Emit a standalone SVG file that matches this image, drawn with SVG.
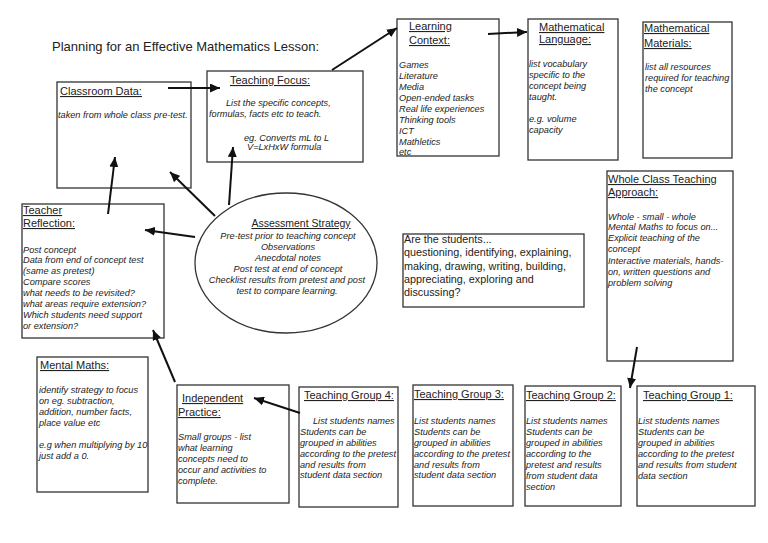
<svg xmlns="http://www.w3.org/2000/svg" width="768" height="543" viewBox="0 0 768 543">
<defs>
<style>
text{font-family:"Liberation Sans",Arial,sans-serif;fill:#222}
.box{fill:#fff;stroke:#333;stroke-width:1.3}
.h{font-size:11px;text-decoration:underline}
.b{font-size:9.2px;font-style:italic}
.q{font-size:10.8px}
.title{font-size:13px}
.c line{stroke:#111;stroke-width:2;marker-end:url(#ah)}
</style>
<marker id="ah" markerUnits="userSpaceOnUse" markerWidth="11" markerHeight="9" refX="10" refY="4.5" orient="auto">
<path d="M0,0 L10,4.5 L0,9 z" fill="#111"/>
</marker>
</defs>
<rect width="768" height="543" fill="#fff"/>
<text class="title" x="52" y="51">Planning for an Effective Mathematics Lesson:</text>

<g id="classroom-data">
<rect class="box" x="57" y="82" width="134" height="106"/>
<text class="h" x="60" y="95">Classroom Data:</text>
<text class="b" x="58" y="118">taken from whole class pre-test.</text>
</g>

<g id="teaching-focus">
<rect class="box" x="207" y="71" width="156" height="91"/>
<text class="h" x="230" y="84">Teaching Focus:</text>
<text class="b" x="226" y="106">List the specific concepts,</text>
<text class="b" x="209" y="117">formulas, facts etc to teach.</text>
<text class="b" x="244" y="141">eg. Converts mL to L</text>
<text class="b" x="247" y="150">V=LxHxW formula</text>
</g>

<g id="learning-context">
<rect class="box" x="397" y="19" width="102" height="137"/>
<text class="h" x="409" y="30">Learning</text>
<text class="h" x="409" y="44">Context:</text>
<text class="b" x="399" y="68">Games</text>
<text class="b" x="399" y="79">Literature</text>
<text class="b" x="399" y="90">Media</text>
<text class="b" x="399" y="101">Open-ended tasks</text>
<text class="b" x="399" y="112">Real life experiences</text>
<text class="b" x="399" y="123">Thinking tools</text>
<text class="b" x="399" y="134">ICT</text>
<text class="b" x="399" y="145">Mathletics</text>
<text class="b" x="399" y="155">etc</text>
</g>

<g id="mathematical-language">
<rect class="box" x="528" y="19" width="90" height="141"/>
<text class="h" x="539" y="31">Mathematical</text>
<text class="h" x="539" y="43">Language:</text>
<text class="b" x="529" y="67">list vocabulary</text>
<text class="b" x="529" y="78">specific to the</text>
<text class="b" x="529" y="89">concept being</text>
<text class="b" x="529" y="100">taught.</text>
<text class="b" x="529" y="122">e.g. volume</text>
<text class="b" x="529" y="133">capacity</text>
</g>

<g id="mathematical-materials">
<rect class="box" x="643" y="22" width="89" height="136"/>
<text class="h" x="644" y="32">Mathematical</text>
<text class="h" x="644" y="47">Materials:</text>
<text class="b" x="645" y="70">list all resources</text>
<text class="b" x="645" y="81">required for teaching</text>
<text class="b" x="645" y="92">the concept</text>
</g>

<g id="whole-class">
<rect class="box" x="607" y="171" width="126" height="190"/>
<text class="h" x="608" y="183">Whole Class Teaching</text>
<text class="h" x="608" y="196">Approach:</text>
<text class="b" x="608" y="220">Whole - small - whole</text>
<text class="b" x="608" y="230">Mental Maths to focus on...</text>
<text class="b" x="608" y="241">Explicit teaching of the</text>
<text class="b" x="608" y="252">concept</text>
<text class="b" x="608" y="264">Interactive materials, hands-</text>
<text class="b" x="608" y="275">on, written questions and</text>
<text class="b" x="608" y="286">problem solving</text>
</g>

<g id="teacher-reflection">
<rect class="box" x="22" y="204" width="142" height="134"/>
<text class="h" x="23" y="214">Teacher</text>
<text class="h" x="23" y="227">Reflection:</text>
<text class="b" x="23" y="253">Post concept</text>
<text class="b" x="23" y="263">Data from end of concept test</text>
<text class="b" x="23" y="274">(same as pretest)</text>
<text class="b" x="23" y="285">Compare scores</text>
<text class="b" x="23" y="296">what needs to be revisited?</text>
<text class="b" x="23" y="307">what areas require extension?</text>
<text class="b" x="23" y="318">Which students need support</text>
<text class="b" x="23" y="329">or extension?</text>
</g>

<g id="assessment-strategy">
<ellipse cx="286" cy="263" rx="91" ry="70" fill="#fff" stroke="#333" stroke-width="1.3"/>
<text class="h" x="301" y="227" text-anchor="middle" style="font-size:10.5px">Assessment Strategy</text>
<g text-anchor="middle">
<text class="b" x="288" y="239">Pre-test prior to teaching concept</text>
<text class="b" x="288" y="250">Observations</text>
<text class="b" x="288" y="261">Anecdotal notes</text>
<text class="b" x="288" y="272">Post test at end of concept</text>
<text class="b" x="287" y="283">Checklist results from pretest and post</text>
<text class="b" x="287" y="294">test to compare learning.</text>
</g>
</g>

<g id="are-the-students">
<rect class="box" x="403" y="234" width="181" height="73"/>
<text class="q" x="404" y="243">Are the students...</text>
<text class="q" x="404" y="256">questioning, identifying, explaining,</text>
<text class="q" x="404" y="270">making, drawing, writing, building,</text>
<text class="q" x="404" y="283">appreciating, exploring and</text>
<text class="q" x="404" y="296">discussing?</text>
</g>

<g id="mental-maths">
<rect class="box" x="37" y="357" width="111" height="135"/>
<text class="h" x="40" y="369">Mental Maths:</text>
<text class="b" x="39" y="393">identify strategy to focus</text>
<text class="b" x="39" y="404">on eg. subtraction,</text>
<text class="b" x="39" y="415">addition, number facts,</text>
<text class="b" x="39" y="426">place value etc</text>
<text class="b" x="39" y="448">e.g when multiplying by 10</text>
<text class="b" x="39" y="459">just add a 0.</text>
</g>

<g id="independent-practice">
<rect class="box" x="177" y="385" width="112" height="118"/>
<text class="h" x="182" y="402">Independent</text>
<text class="h" x="178" y="416">Practice:</text>
<text class="b" x="178" y="440">Small groups - list</text>
<text class="b" x="178" y="451">what learning</text>
<text class="b" x="178" y="462">concepts need to</text>
<text class="b" x="178" y="473">occur and activities to</text>
<text class="b" x="178" y="484">complete.</text>
</g>

<g id="teaching-group-4">
<rect class="box" x="299" y="387" width="99" height="120"/>
<text class="h" x="304" y="399">Teaching Group 4:</text>
<text class="b" x="313" y="424">List students names</text>
<text class="b" x="300" y="435">Students can be</text>
<text class="b" x="300" y="446">grouped in abilities</text>
<text class="b" x="300" y="457">according to the pretest</text>
<text class="b" x="300" y="468">and results from</text>
<text class="b" x="300" y="478">student data section</text>
</g>

<g id="teaching-group-3">
<rect class="box" x="413" y="385" width="100" height="121"/>
<text class="h" x="414" y="398">Teaching Group 3:</text>
<text class="b" x="414" y="424">List students names</text>
<text class="b" x="414" y="435">Students can be</text>
<text class="b" x="414" y="446">grouped in abilities</text>
<text class="b" x="414" y="457">according to the pretest</text>
<text class="b" x="414" y="468">and results from</text>
<text class="b" x="414" y="478">student data section</text>
</g>

<g id="teaching-group-2">
<rect class="box" x="525" y="386" width="96" height="120"/>
<text class="h" x="526" y="399">Teaching Group 2:</text>
<text class="b" x="526" y="424">List students names</text>
<text class="b" x="526" y="435">Students can be</text>
<text class="b" x="526" y="446">grouped in abilities</text>
<text class="b" x="526" y="457">according to the</text>
<text class="b" x="526" y="468">pretest and results</text>
<text class="b" x="526" y="479">from student data</text>
<text class="b" x="526" y="490">section</text>
</g>

<g id="teaching-group-1">
<rect class="box" x="637" y="386" width="118" height="120"/>
<text class="h" x="643" y="399">Teaching Group 1:</text>
<text class="b" x="638" y="424">List students names</text>
<text class="b" x="638" y="435">Students can be</text>
<text class="b" x="638" y="446">grouped in abilities</text>
<text class="b" x="638" y="457">according to the pretest</text>
<text class="b" x="638" y="468">and results from student</text>
<text class="b" x="638" y="479">data section</text>
</g>

<g id="connectors" class="c">
<line x1="168" y1="88" x2="220" y2="88"/>
<line x1="332" y1="70" x2="397" y2="28"/>
<line x1="488" y1="34" x2="527" y2="32"/>
<line x1="108" y1="214" x2="115" y2="157"/>
<line x1="215" y1="216" x2="170" y2="172"/>
<line x1="229" y1="205" x2="233" y2="147"/>
<line x1="195" y1="237" x2="145" y2="230"/>
<line x1="175" y1="382" x2="153" y2="330"/>
<line x1="300" y1="413" x2="254" y2="398"/>
<line x1="637" y1="347" x2="630" y2="388"/>
</g>
</svg>
